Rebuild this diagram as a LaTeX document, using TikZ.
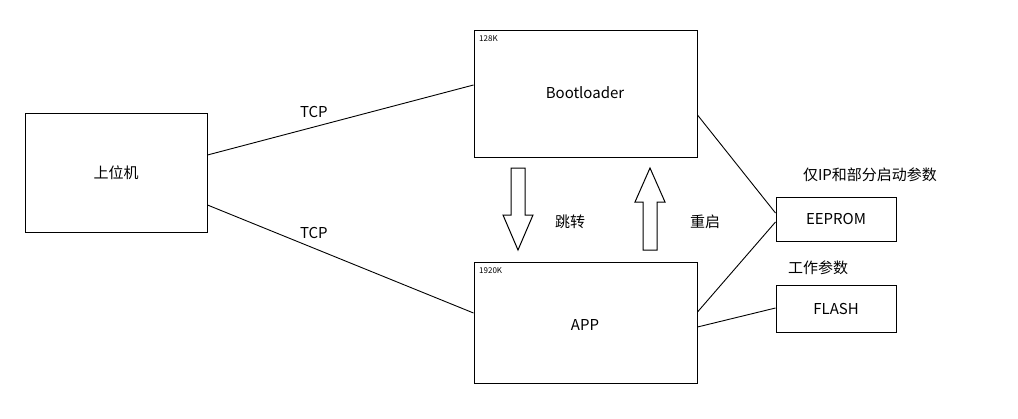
\documentclass[tikz,border=0pt]{standalone}
\usepackage{fontspec}
\setmainfont{Noto Sans CJK SC}
\begin{document}
\begin{tikzpicture}[x=1pt,y=-1pt,
  box/.style={draw,line width=1pt,inner sep=0pt},
  lbl/.style={font=\fontsize{15}{18}\selectfont,inner sep=0pt},
  small/.style={font=\fontsize{8}{10}\selectfont,inner sep=0pt,anchor=north west},
  ln/.style={line width=0.9pt},
  barrow/.style={draw,line width=1pt,fill=white}]
\useasboundingbox (0,0) rectangle (1018,418);
\node[box,minimum width=182pt,minimum height=119pt] (pc) at (116,172.5) {};
\node[lbl] at (pc) {上位机};
\node[box,minimum width=223pt,minimum height=127pt] (boot) at (585.5,93.5) {};
\node[lbl] at (585,93) {Bootloader};
\node[small] at (479,35) {128K};
\node[box,minimum width=223pt,minimum height=121pt] (app) at (585.5,322.5) {};
\node[lbl] at (585,325) {APP};
\node[small] at (479,267) {1920K};
\node[box,minimum width=120pt,minimum height=44pt] (ee) at (836,219) {};
\node[lbl] at (ee) {EEPROM};
\node[box,minimum width=120pt,minimum height=47pt] (fl) at (836,308.5) {};
\node[lbl] at (fl) {FLASH};
\node[lbl] at (870,175) {仅IP和部分启动参数};
\node[lbl] at (818,268) {工作参数};
\coordinate (p1) at (pc.east |- 0,155);
\coordinate (p2) at (pc.east |- 0,205);
\coordinate (b1) at (boot.west |- 0,85);
\coordinate (a1) at (app.west |- 0,313);
\coordinate (b2) at (boot.east |- 0,115);
\coordinate (a2) at (app.east |- 0,312);
\coordinate (a3) at (app.east |- 0,327);
\coordinate (e1) at (ee.west |- 0,213);
\coordinate (e2) at (ee.west |- 0,222);
\coordinate (f1) at (fl.west |- 0,308);
\draw[ln] (p1) -- node[lbl,pos=0.4,above=9pt] {TCP} (b1);
\draw[ln] (p2) -- node[lbl,pos=0.4,above=9pt] {TCP} (a1);
\draw[ln] (b2) -- (e1);
\draw[ln] (a2) -- (e2);
\draw[ln] (a3) -- (f1);
\draw[barrow] (511,168) -- (525,168) -- (525,215) -- (533,215) -- (518,250) -- (503,215) -- (511,215) -- cycle;
\draw[barrow] (643,250) -- (657,250) -- (657,202) -- (665,202) -- (650,168) -- (635,202) -- (643,202) -- cycle;
\node[lbl] at (570,222) {跳转};
\node[lbl] at (705,222) {重启};
\end{tikzpicture}
\end{document}
